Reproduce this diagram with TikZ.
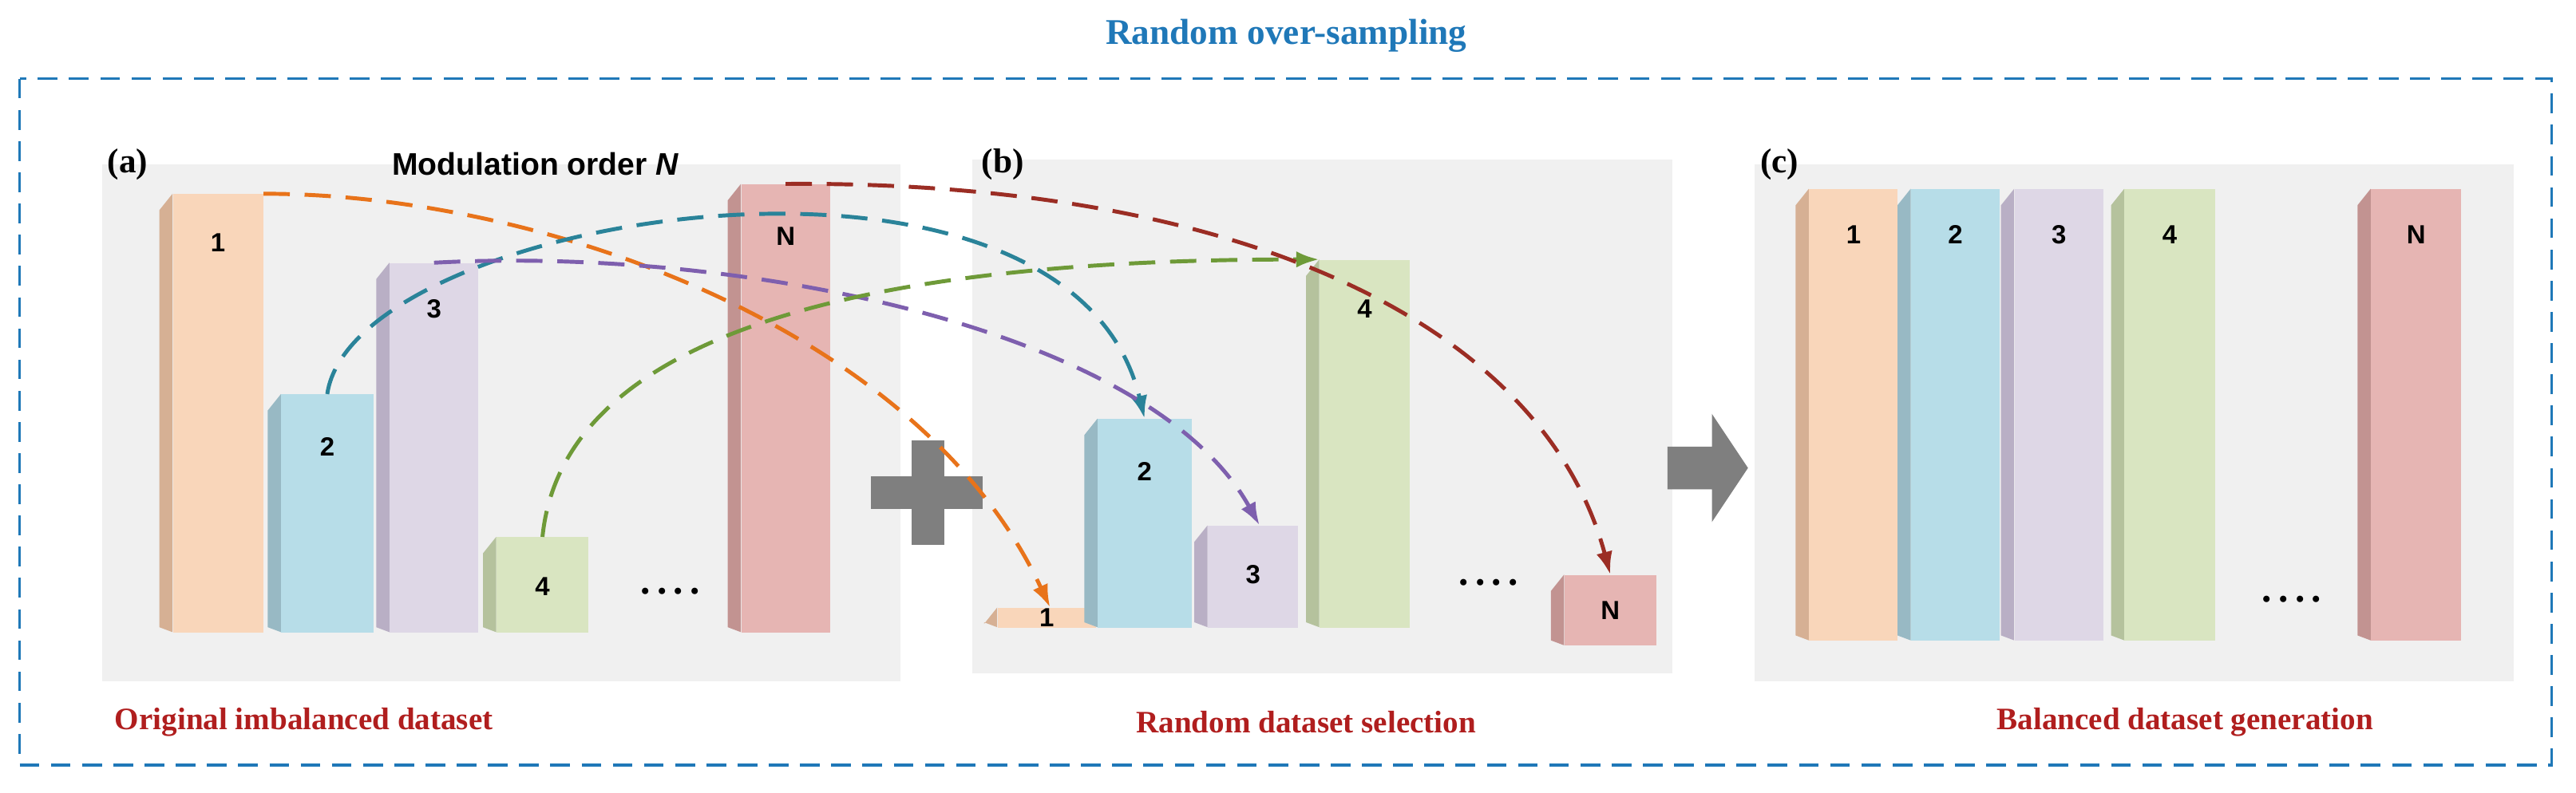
\documentclass[tikz,border=0pt]{standalone}
\usepackage{fontspec}
\setmainfont{Liberation Serif}
\setsansfont{Liberation Sans}
\usetikzlibrary{calc,arrows.meta}
\definecolor{tblue}{HTML}{1F78B8}
\definecolor{tred}{HTML}{B01E1E}
\definecolor{bgc}{HTML}{F0F0F0}
\definecolor{c1}{HTML}{F9D6BA}\definecolor{s1}{HTML}{D6B094}
\definecolor{c2}{HTML}{B7DDE8}\definecolor{s2}{HTML}{98B9C4}
\definecolor{c3}{HTML}{DED7E6}\definecolor{s3}{HTML}{B9AFC5}
\definecolor{c4}{HTML}{D9E5C1}\definecolor{s4}{HTML}{B5C29D}
\definecolor{c5}{HTML}{E6B5B3}\definecolor{s5}{HTML}{C29391}
\definecolor{aor}{HTML}{E8731A}
\definecolor{ate}{HTML}{2A8399}
\definecolor{apu}{HTML}{7E5FAE}
\definecolor{agr}{HTML}{6E9A38}
\definecolor{are}{HTML}{9B2D24}
\definecolor{gsym}{HTML}{7F7F7F}
\newcommand\mybar[9]{%
  \fill[#7] (#2,#3) -- (#2-8,#3+10) -- (#2-8,#4-3) -- (#2,#4) -- cycle;
  \node[bar,fill=#6,minimum width={#5*1pt},minimum height={(#4-#3)*1pt},anchor=north west] (#1) at (#2,#3) {};
  \node[num] at ($(#1.north)+(0,#8)$) {#9};}
\begin{document}
\begin{tikzpicture}[x=1pt,y=-1pt,
  bar/.style={draw=none,inner sep=0pt},
  num/.style={font=\sffamily\bfseries\fontsize{16}{16}\selectfont},
  plab/.style={font=\bfseries\fontsize{21}{21}\selectfont},
  captxt/.style={font=\bfseries\fontsize{19}{19}\selectfont,text=tred},
  conn/.style={dashed,dash pattern=on 16pt off 9pt,line width=2.4pt,-{Latex[length=14pt,width=10pt]}}]
\useasboundingbox (0,0) rectangle (1568,482.5);
\node[font=\bfseries\fontsize{22}{22}\selectfont,text=tblue] (title) at (783,22) {Random over-sampling};
\draw[tblue,line width=1.6pt,dash pattern=on 12pt off 7pt] (12,48) rectangle (1553,466);
% panels
\fill[bgc] (62,100) rectangle (548,415);
\fill[bgc] (592,97) rectangle (1018,410);
\fill[bgc] (1068,100) rectangle (1530,415);
\node[plab,anchor=west] (pa) at (62,100) {(a)};
\node[plab,anchor=west] (pb) at (594,100) {(b)};
\node[plab,anchor=west] (pc) at (1068,100) {(c)};
\node[font=\sffamily\bfseries\fontsize{19}{19}\selectfont] (mod) at (326,100) {Modulation order \textit{N}};
% bars (a)
\mybar{a1}{105}{118}{385}{55}{c1}{s1}{30}{1}
\mybar{a2}{171}{240}{385}{56}{c2}{s2}{32}{2}
\mybar{a3}{237}{160}{385}{54}{c3}{s3}{28}{3}
\mybar{a4}{302}{327}{385}{56}{c4}{s4}{30}{4}
\mybar{aN}{451}{112}{385}{54}{c5}{s5}{32}{N}
\node[font=\bfseries\fontsize{24}{24}\selectfont] (da) at (408,360) {.\,.\,.\,.};
% bars (b)
\mybar{b1}{607}{370}{382}{60}{c1}{s1}{6}{1}
\mybar{b2}{668}{255}{382}{57}{c2}{s2}{32}{2}
\mybar{b3}{735}{320}{382}{55}{c3}{s3}{30}{3}
\mybar{b4}{803}{158}{382}{55}{c4}{s4}{30}{4}
\mybar{bN}{952}{350}{393}{56}{c5}{s5}{22}{N}
\node[font=\bfseries\fontsize{24}{24}\selectfont] (db) at (906,355) {.\,.\,.\,.};
% bars (c)
\mybar{c1}{1101}{115}{390}{54}{c1}{s1}{28}{1}
\mybar{c2}{1163}{115}{390}{54}{c2}{s2}{28}{2}
\mybar{c3}{1226}{115}{390}{54}{c3}{s3}{28}{3}
\mybar{c4}{1293}{115}{390}{55}{c4}{s4}{28}{4}
\mybar{cN}{1443}{115}{390}{55}{c5}{s5}{28}{N}
\node[font=\bfseries\fontsize{24}{24}\selectfont] (dc) at (1395,365) {.\,.\,.\,.};
% captions
\node[captxt] (ca) at (185,440) {Original imbalanced dataset};
\node[captxt] (cb) at (795,440) {Random dataset selection};
\node[captxt] (cc) at (1330,440) {Balanced dataset generation};
% plus and arrow
\fill[gsym] (530,290) rectangle (598,310);
\fill[gsym] (555,268) rectangle (575,332);
\fill[gsym] (1015,272) -- (1042,272) -- (1042,252) -- (1064,285) -- (1042,318) -- (1042,298) -- (1015,298) -- cycle;
% connectors
\draw[conn,aor] (a1.north east) .. controls (330,118) and (560,200) .. ($(b1.north)+(2,0)$);
\draw[conn,ate] (a2.north) .. controls (215,130) and (650,60) .. (b2.north);
\draw[conn,apu] (a3.north) .. controls (450,150) and (700,200) .. ($(b3.north)+(4,0)$);
\draw[conn,agr] (a4.north) .. controls (345,180) and (600,158) .. (b4.north west);
\draw[conn,are] (aN.north) .. controls (760,110) and (940,200) .. (bN.north);
\end{tikzpicture}
\end{document}
